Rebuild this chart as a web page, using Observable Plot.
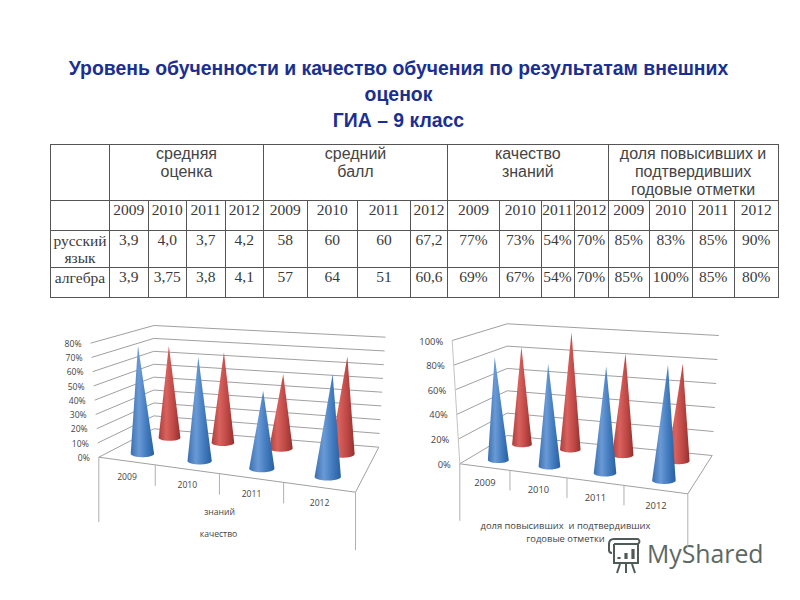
<!DOCTYPE html>
<html lang="ru">
<head>
<meta charset="utf-8">
<script src="https://cdn.jsdelivr.net/npm/d3@7"></script>
<script src="https://cdn.jsdelivr.net/npm/@observablehq/plot@0.6"></script>
<style>
html,body{margin:0;padding:0;background:#fff;width:800px;height:600px;overflow:hidden}
#title{position:absolute;left:0;top:55px;width:797px;text-align:center;font:bold 19.4px/26px "Liberation Sans",sans-serif;color:#1b2f92}
#table{position:absolute;left:50px;top:144px;border-collapse:collapse;table-layout:fixed;width:727px;font:15.5px/17.5px "Liberation Serif",serif;color:#3a3a3a}
#table td{border:1.3px solid #555;padding:0;text-align:center;vertical-align:top;white-space:nowrap;overflow:visible}
#table td.h{font:16px/18.2px "Liberation Sans",sans-serif;color:#444}
#table td.s{white-space:normal;padding-top:1px}
.chart{position:absolute}
#mark{position:absolute;left:606px;top:536px}
#brand{position:absolute;left:647px;top:534px;font:24.8px/38px "Open Sans",sans-serif;color:#5c6864}
</style>
</head>
<body>
<div id="title">Уровень обученности и качество обучения по результатам внешних<br>оценок<br>ГИА – 9 класс</div>
<table id="table"></table>
<svg id="mark" width="36" height="38" viewBox="0 0 36 38" fill="none" stroke="#4f5b57" stroke-width="2"><path d="M8 8h24q3 -3 0 -5H8q-5 0 -5 5v6q0 3 3 3M8 8v19h24V8"/><path d="M13 23v-2M20 23v-6M27 23v-10" stroke-width="3.2"/><path d="M14 28l-3 9M20 28v9M26 28l3 9"/></svg>
<div id="brand">MyShared</div>
<script>
// ---- data ----
const years = ["2009", "2010", "2011", "2012"];
const headers = [["средняя", "оценка"], ["средний", "балл"], ["качество", "знаний"], ["доля повысивших  и", "подтвердивших", "годовые отметки"]];
const subjects = [["русский", "язык"], ["алгебра"]];
const rowRussian = ["3,9","4,0","3,7","4,2","58","60","60","67,2","77%","73%","54%","70%","85%","83%","85%","90%"];
const rowAlgebra = ["3,9","3,75","3,8","4,1","57","64","51","60,6","69%","67%","54%","70%","85%","100%","85%","80%"];
const qualityRussian = [77, 73, 54, 70];
const qualityAlgebra = [69, 67, 54, 70];
const shareRussian = [85, 83, 85, 90];
const shareAlgebra = [85, 100, 85, 80];
const qualityTicks = [0, 10, 20, 30, 40, 50, 60, 70, 80];
const shareTicks = [0, 20, 40, 60, 80, 100];
const qualityTitle = ["знаний", "качество"];
const shareTitle = ["доля повысивших  и подтвердивших", "годовые отметки"];

// ---- table ----
const colWidths = [59,38.5,38.5,38.5,38.5,43.5,50.5,53,37,52,41.5,33,34,41.5,42.5,42.5,43.5];
const t = d3.select("#table");
t.append("colgroup").selectAll("col").data(colWidths).join("col").style("width", d => d + "px");
const r0 = t.append("tr").style("height", "55px");
r0.append("td");
headers.forEach(h => r0.append("td").attr("colspan", 4).attr("class", "h").html(h.join("<br>")));
const r1 = t.append("tr").style("height", "30px");
r1.append("td");
for (let i = 0; i < 4; i++) years.forEach(y => r1.append("td").text(y));
[[subjects[0], rowRussian, 37], [subjects[1], rowAlgebra, 30]].forEach(([s, row, h]) => {
  const r = t.append("tr").style("height", h + "px");
  r.append("td").attr("class", "s").html(s.join("<br>"));
  row.forEach(v => r.append("td").text(v));
});

// ---- 3D cone charts ----
const tickFrac = [0, 0.22, 0.47, 0.72, 1];
const baseFrac = [0.12, 0.35, 0.6, 0.865];
const labelFrac = [0.11, 0.345, 0.595, 0.86];
const depthFront = 0.25, depthBack = 0.78;

function chart({left, top, width, height, box, ticks, max, front, back, titles, tickDrop, cornerDrop, idp, axisLine, fontSize}) {
  const lerp = (a, b, t) => [a[0] + (b[0] - a[0]) * t, a[1] + (b[1] - a[1]) * t];
  const P = (f, v, w) => {
    const low = lerp(lerp(box.fl0, box.fr0, f), lerp(box.bl0, box.br0, f), v);
    const up = lerp(lerp(box.fl1, box.fr1, f), lerp(box.bl1, box.br1, f), v);
    return lerp(low, up, w);
  };
  const rows = ticks.map(d => d / max);
  const wallLinks = rows.flatMap(w => [[P(0, 0, w), P(0, 1, w)], [P(0, 1, w), P(1, 1, w)]]);
  const floorLinks = [[P(0, 0, 0), P(1, 0, 0)], [P(1, 0, 0), P(1, 1, 0)]];
  const dropLinks = tickFrac.map((f, i) => {
    const a = P(f, 0, 0);
    const d = (i === 0 || i === 4) ? cornerDrop[i === 0 ? 0 : 1] : tickDrop;
    return [a, [a[0], a[1] + d]];
  });
  const cone = (vals, depth, name) => vals.flatMap((val, i) => {
    const f = baseFrac[i];
    const c = P(f, depth, 0);
    const tip = P(f, depth, val / max);
    const rowW = P(1, depth, 0)[0] - P(0, depth, 0)[0];
    const rx = rowW * (0.046 + 0.008 * f), ry = rx * 0.29;
    const pts = [{x: tip[0], y: tip[1], z: name + i}];
    for (let a = 0; a <= 24; a++) {
      const th = Math.PI * a / 24;
      pts.push({x: c[0] + rx * Math.cos(th), y: c[1] + ry * Math.sin(th), z: name + i});
    }
    return pts;
  });
  const grad = (id, stops) => {
    const g = d3.create("svg:linearGradient").attr("id", id).attr("x1", 0).attr("x2", 1).attr("y1", 0).attr("y2", 0);
    stops.forEach(([o, c]) => g.append("stop").attr("offset", o).attr("stop-color", c));
    return g;
  };
  const defsMark = () => {
    const d = d3.create("svg:defs");
    d.append(() => grad(idp + "b", [[0, "#3a70b0"], [0.35, "#6a9ad6"], [0.7, "#4079bd"], [1, "#28609f"]]).node());
    d.append(() => grad(idp + "r", [[0, "#ad3e3b"], [0.35, "#d9625e"], [0.7, "#bd4744"], [1, "#93302e"]]).node());
    return d.node();
  };
  const link = (data, o) => Plot.link(data, {x1: d => d[0][0], y1: d => d[0][1], x2: d => d[1][0], y2: d => d[1][1], ...o});
  const labelCss = {fontFamily: "'Open Sans',sans-serif", fontSize, fill: "#444"};
  const pl = Plot.plot({
    width, height, margin: 0,
    x: {domain: [0, width], range: [0, width], axis: null},
    y: {domain: [0, height], range: [0, height], axis: null},
    style: {background: "transparent", overflow: "visible"},
    marks: [
      defsMark,
      link(wallLinks, {stroke: "#a0a0a0", strokeWidth: 1}),
      link(floorLinks, {stroke: "#a0a0a0", strokeWidth: 1}),
      link(dropLinks, {stroke: "#b0b0b0", strokeWidth: 1}),
      axisLine ? link([[P(0, 0, 0), P(0, 0, 1)]], {stroke: "#c4c4c4", strokeWidth: 1}) : null,
      Plot.line(cone(back, depthBack, "r"), {x: "x", y: "y", z: "z", stroke: "none", fill: `url(#${idp}r)`, curve: "linear"}),
      Plot.line(cone(front, depthFront, "b"), {x: "x", y: "y", z: "z", stroke: "none", fill: `url(#${idp}b)`, curve: "linear"}),
      Plot.text(ticks, {x: d => P(0, 0, d / max)[0] - 9, y: d => P(0, 0, d / max)[1] + 1, text: d => d + "%", textAnchor: "end", ...labelCss}),
      Plot.text(years, {x: (d, i) => P(labelFrac[i], 0, 0)[0], y: (d, i) => P(labelFrac[i], 0, 0)[1] + 16, text: d => d, ...labelCss}),
      Plot.text(titles, {x: d => d.x, y: d => d.y, text: d => d.t, ...labelCss})
    ]
  });
  pl.classList.add("chart");
  pl.style.left = left + "px";
  pl.style.top = top + "px";
  document.body.appendChild(pl);
}

chart({
  left: 20, top: 320, width: 380, height: 240, idp: "q", ticks: qualityTicks, max: 80, axisLine: false, fontSize: 8.6,
  box: {fl0: [78.3, 136.7], fr0: [335, 171.7], bl0: [133.3, 108.3], br0: [358.3, 126.7],
        fl1: [70, 22.7], fr1: [342.7, 50.7], bl1: [133.3, 5], br1: [365, 16.7]},
  front: qualityRussian, back: qualityAlgebra,
  titles: [{t: qualityTitle[0], x: 199, y: 192}, {t: qualityTitle[1], x: 198, y: 214}],
  tickDrop: 21, cornerDrop: [65, 58]
});
chart({
  left: 400, top: 320, width: 380, height: 240, idp: "s", ticks: shareTicks, max: 100, axisLine: true, fontSize: 9.4,
  box: {fl0: [59.3, 143.3], fr0: [287.3, 173.3], bl0: [106.7, 115], br0: [311.7, 135],
        fl1: [51.7, 20], fr1: [293.3, 40.7], bl1: [106.7, 3.3], br1: [318.3, 15]},
  front: shareRussian, back: shareAlgebra,
  titles: [{t: shareTitle[0], x: 165, y: 205}, {t: shareTitle[1], x: 165, y: 218}],
  tickDrop: 20, cornerDrop: [57, 53]
});
</script>
</body>
</html>
